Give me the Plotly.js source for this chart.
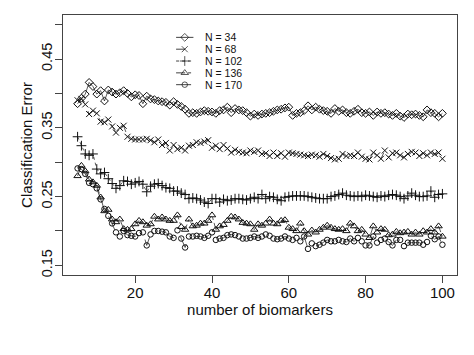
<!DOCTYPE html>
<html>
<head>
<meta charset="utf-8">
<script src="https://cdn.plot.ly/plotly-3.0.1.min.js"></script>
<style>html,body{margin:0;padding:0;background:#fff}#plot{width:474px;height:355px}</style>
</head>
<body>
<div id="plot"></div>
<script>
// ---- data ----
const xs = [];
for (let k = 5; k <= 100; k++) xs.push(k);

const seriesNames = ["N = 34", "N = 68", "N = 102", "N = 136", "N = 170"];

const n34 = [0.385,0.393,0.399,0.416,0.410,0.399,0.404,0.389,0.405,0.402,
0.399,0.401,0.404,0.400,0.395,0.398,0.397,0.385,0.396,0.392,
0.391,0.389,0.388,0.387,0.383,0.388,0.384,0.381,0.377,0.371,
0.372,0.371,0.373,0.375,0.374,0.373,0.371,0.375,0.376,0.380,
0.372,0.378,0.376,0.375,0.372,0.367,0.370,0.368,0.370,0.371,
0.372,0.374,0.376,0.377,0.379,0.380,0.368,0.371,0.372,0.375,
0.382,0.376,0.380,0.377,0.375,0.374,0.371,0.378,0.374,0.376,
0.372,0.371,0.374,0.377,0.372,0.371,0.373,0.368,0.373,0.371,
0.372,0.370,0.368,0.371,0.367,0.365,0.370,0.369,0.370,0.368,
0.366,0.376,0.372,0.371,0.366,0.371];

const n68 = [0.390,0.392,0.384,0.370,0.375,0.371,0.359,0.358,0.362,0.352,
0.343,0.350,0.353,0.337,0.334,0.333,0.333,0.333,0.334,0.332,
0.329,0.333,0.325,0.328,0.317,0.325,0.319,0.321,0.317,0.324,
0.325,0.329,0.328,0.330,0.332,0.321,0.324,0.319,0.325,0.320,
0.314,0.318,0.315,0.314,0.313,0.317,0.315,0.317,0.312,0.313,
0.309,0.314,0.309,0.313,0.308,0.314,0.313,0.312,0.311,0.310,
0.309,0.311,0.310,0.308,0.312,0.309,0.306,0.304,0.305,0.312,
0.309,0.310,0.309,0.314,0.308,0.305,0.304,0.314,0.310,0.305,
0.317,0.307,0.313,0.314,0.310,0.307,0.312,0.315,0.314,0.309,
0.313,0.310,0.314,0.312,0.314,0.305];

const n102 = [0.337,0.324,0.312,0.310,0.312,0.290,0.283,0.285,0.276,0.269,
0.262,0.266,0.273,0.272,0.268,0.270,0.272,0.268,0.257,0.265,
0.268,0.269,0.266,0.263,0.262,0.258,0.258,0.255,0.253,0.247,
0.248,0.247,0.245,0.242,0.240,0.247,0.247,0.242,0.246,0.244,
0.245,0.247,0.247,0.246,0.245,0.247,0.249,0.247,0.253,0.247,
0.250,0.249,0.246,0.244,0.249,0.250,0.251,0.251,0.251,0.251,
0.250,0.249,0.248,0.247,0.247,0.247,0.250,0.251,0.253,0.255,
0.252,0.251,0.250,0.251,0.250,0.252,0.251,0.250,0.249,0.251,
0.250,0.252,0.253,0.252,0.250,0.247,0.251,0.255,0.252,0.250,
0.250,0.251,0.258,0.249,0.253,0.254];

const n136 = [0.280,0.295,0.287,0.275,0.271,0.266,0.249,0.229,0.231,0.217,
0.213,0.217,0.203,0.202,0.203,0.210,0.215,0.213,0.208,0.210,
0.221,0.217,0.220,0.217,0.215,0.215,0.223,0.206,0.202,0.217,
0.207,0.208,0.211,0.211,0.215,0.223,0.202,0.207,0.209,0.215,
0.221,0.220,0.217,0.212,0.211,0.210,0.202,0.210,0.208,0.211,
0.217,0.211,0.210,0.215,0.216,0.205,0.203,0.200,0.211,0.200,
0.195,0.201,0.198,0.202,0.205,0.208,0.205,0.203,0.202,0.203,
0.200,0.211,0.207,0.200,0.202,0.195,0.190,0.207,0.198,0.203,
0.202,0.194,0.195,0.199,0.197,0.198,0.199,0.195,0.198,0.195,
0.200,0.198,0.203,0.198,0.207,0.192];

const n170 = [0.291,0.290,0.283,0.270,0.268,0.262,0.246,0.232,0.222,0.211,
0.198,0.192,0.200,0.194,0.193,0.192,0.197,0.198,0.179,0.195,
0.200,0.200,0.199,0.198,0.192,0.190,0.201,0.189,0.176,0.192,
0.192,0.193,0.192,0.190,0.193,0.198,0.187,0.189,0.190,0.194,
0.195,0.194,0.192,0.189,0.189,0.190,0.192,0.190,0.192,0.195,
0.193,0.189,0.188,0.189,0.192,0.189,0.187,0.190,0.185,0.192,
0.174,0.182,0.178,0.180,0.183,0.187,0.185,0.185,0.187,0.185,
0.184,0.189,0.185,0.190,0.185,0.179,0.179,0.192,0.183,0.187,
0.189,0.184,0.179,0.187,0.187,0.178,0.183,0.183,0.183,0.183,
0.180,0.184,0.193,0.188,0.192,0.180];

const yLabelVals = [0.15, 0.25, 0.35, 0.45];
const xTickVals = [20, 40, 60, 80, 100];

// ---- styles ----
const allY = [n34, n68, n102, n136, n170];
const symbols = ["diamond-open", "x-thin-open", "cross-thin-open", "triangle-up-open", "circle-open"];
const sizes = [6, 6, 7, 6.5, 5.5];
const dashes = ["solid", "dash", "dot", "dashdot", "longdash"];
const INK = "#111";

const traces = allY.map((ys, i) => ({
  x: xs, y: ys, type: "scatter", mode: "lines+markers",
  name: seriesNames[i], showlegend: false, hoverinfo: "skip",
  line: {color: INK, width: 0.7, dash: dashes[i]},
  marker: {symbol: symbols[i], size: sizes[i], color: INK, line: {color: INK, width: 1}}
}));

// manual legend drawn on an overlay axis (0..1 in both directions)
const legTop = 0.914, legStep = 0.0455;
const legX0 = 0.287, legXm = 0.309, legX1 = 0.331, legTextX = 0.356;
const annotations = [];
seriesNames.forEach((nm, i) => {
  const yy = legTop - i * legStep;
  traces.push({
    x: [legX0, legXm, legX1], y: [yy, yy, yy], xaxis: "x2", yaxis: "y2",
    type: "scatter", mode: "lines+markers", showlegend: false, hoverinfo: "skip",
    line: {color: INK, width: 0.8, dash: dashes[i]},
    marker: {symbol: symbols[i], size: [0, sizes[i], 0], color: INK, line: {color: INK, width: 1}}
  });
  annotations.push({
    xref: "x2", yref: "y2", x: legTextX, y: yy, text: nm, showarrow: false,
    xanchor: "left", yanchor: "middle",
    font: {family: "Liberation Sans, Arial, sans-serif", size: 10.5, color: INK}
  });
});

const FRAME = "#444";
const layout = {
  width: 474, height: 355,
  margin: {l: 63, r: 17, t: 15, b: 80, pad: 0},
  paper_bgcolor: "#fff", plot_bgcolor: "#fff",
  font: {family: "Liberation Sans, Arial, sans-serif", color: INK},
  showlegend: false,
  xaxis: {
    range: [1.2, 103.8], tickvals: xTickVals, ticks: "outside", ticklen: 7,
    tickcolor: FRAME, tickwidth: 1, showgrid: false, zeroline: false,
    showline: true, linecolor: FRAME, linewidth: 1, mirror: true,
    tickfont: {size: 15, color: INK}, ticklabelstandoff: -3,
    title: {text: "number of biomarkers", font: {size: 15, color: INK}, standoff: 1},
    automargin: true
  },
  yaxis: {
    range: [0.136, 0.514], tickvals: yLabelVals, ticktext: yLabelVals.map(v => v.toFixed(2)),
    ticks: "outside", ticklen: 7, tickcolor: FRAME, tickwidth: 1, tickangle: -90,
    minor: {dtick: 0.05, tick0: 0.15, ticks: "outside", ticklen: 7, tickcolor: FRAME, tickwidth: 1, showgrid: false},
    showgrid: false, zeroline: false,
    showline: true, linecolor: FRAME, linewidth: 1, mirror: true,
    tickfont: {size: 14.5, color: INK}, ticklabelstandoff: -3,
    title: {text: "Classification Error", font: {size: 15, color: INK}, standoff: 2},
    automargin: true
  },
  xaxis2: {overlaying: "x", range: [0, 1], visible: false, fixedrange: true},
  yaxis2: {overlaying: "y", range: [0, 1], visible: false, fixedrange: true},
  annotations: annotations
};

Plotly.newPlot("plot", traces, layout, {staticPlot: true, displayModeBar: false});
</script>
</body>
</html>
